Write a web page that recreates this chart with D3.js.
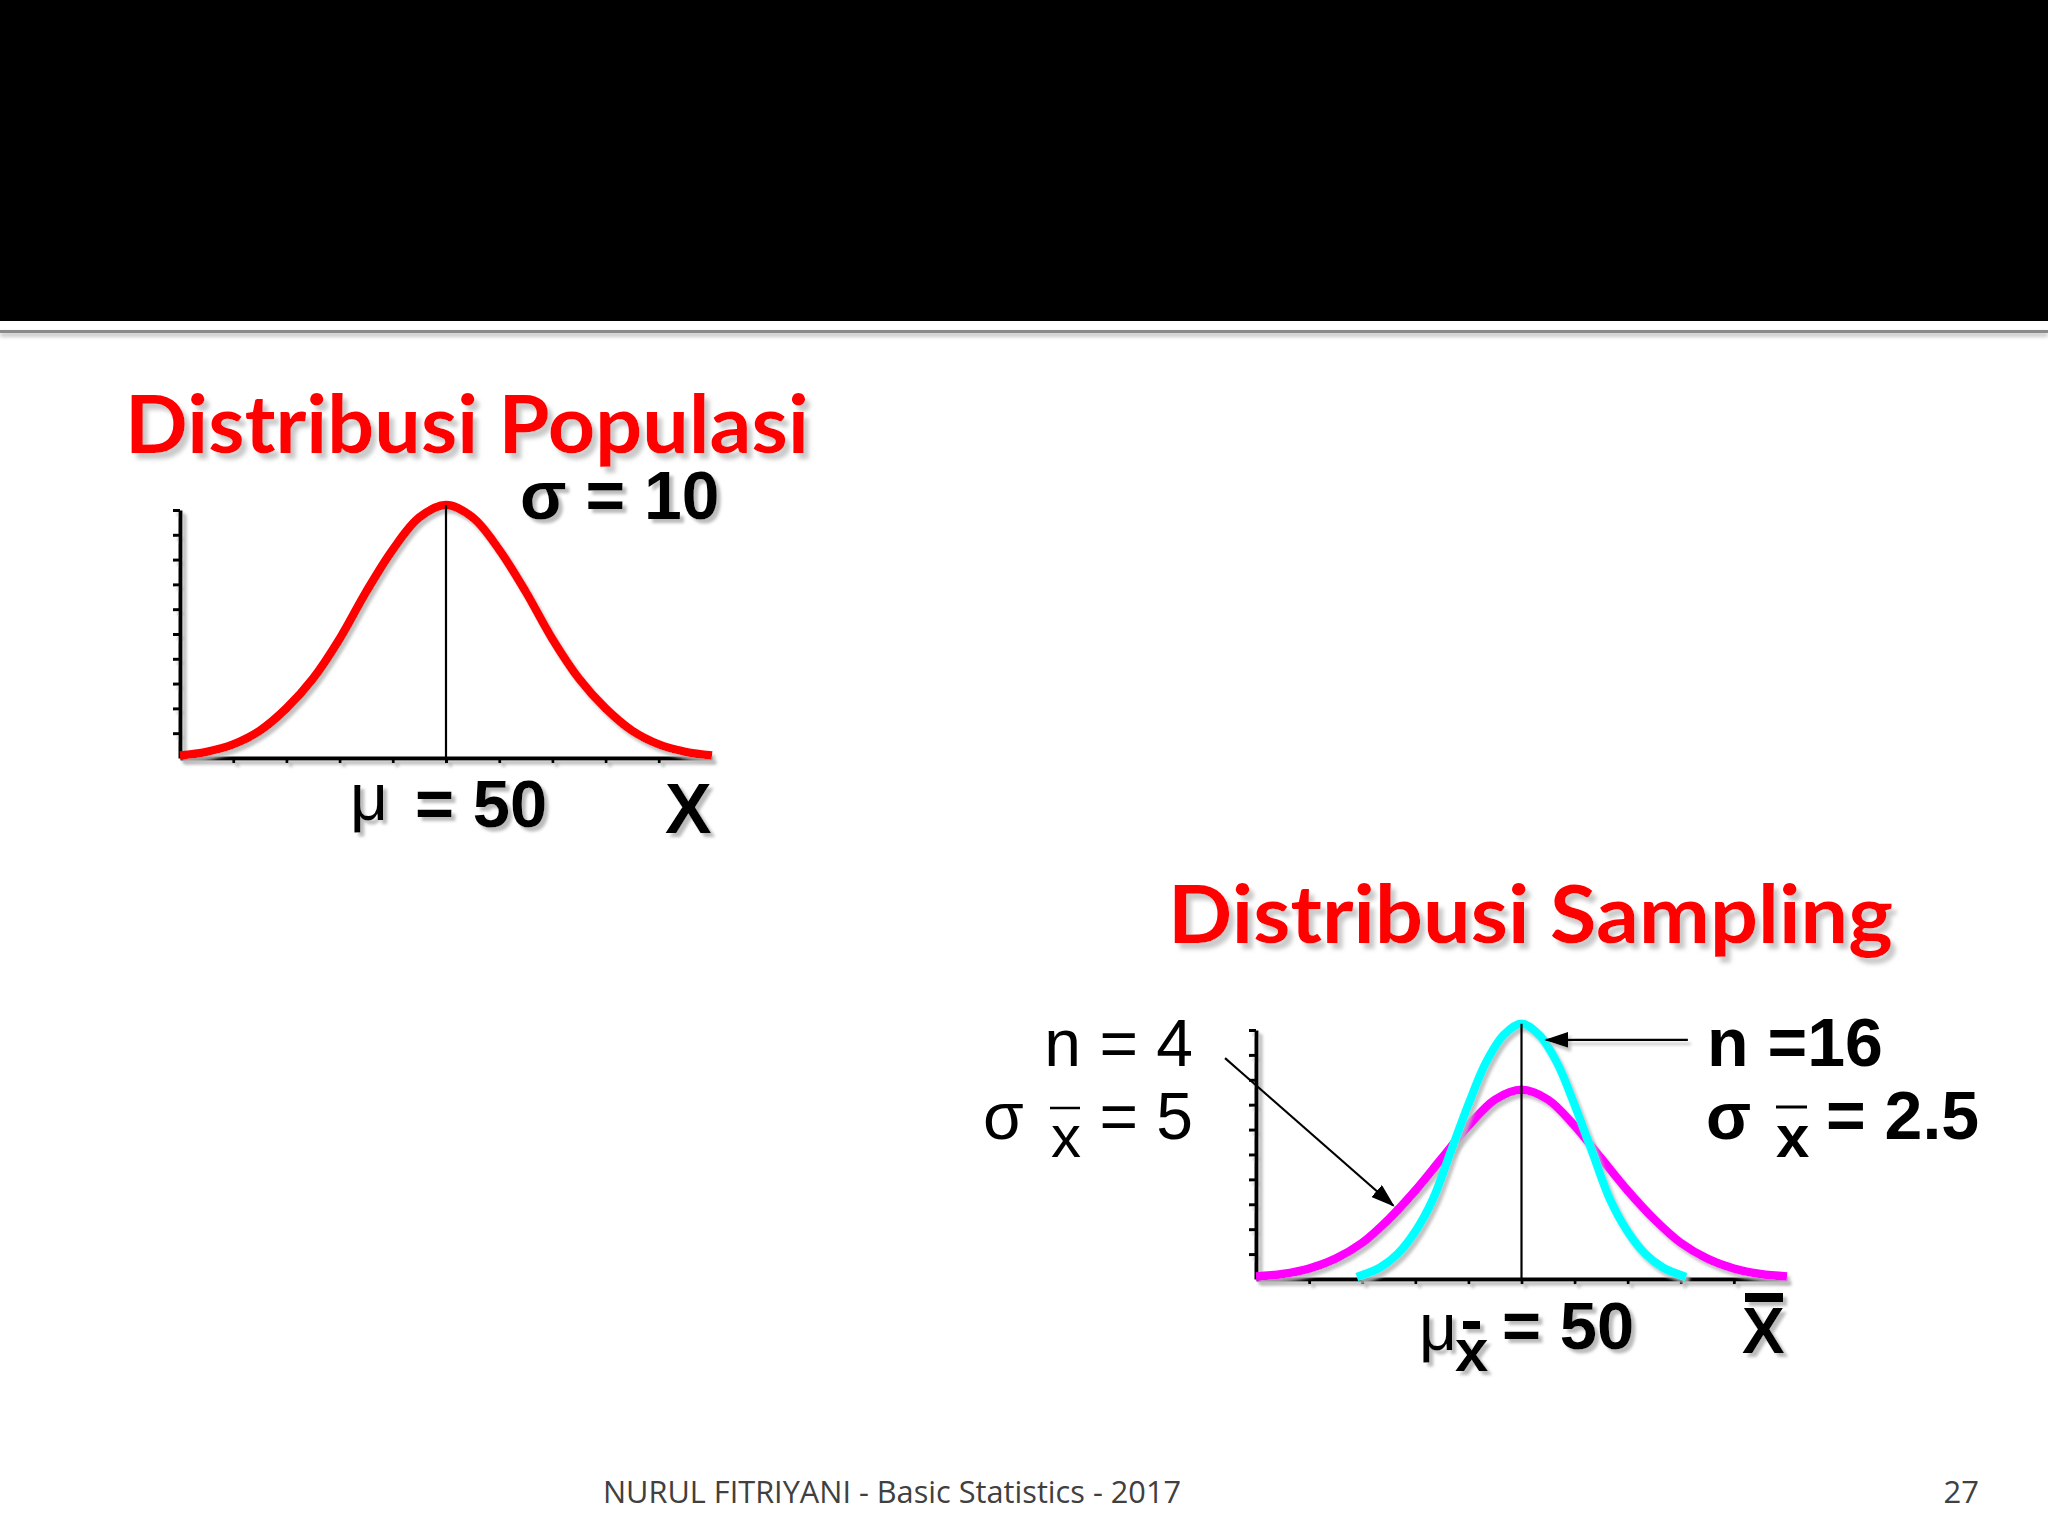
<!DOCTYPE html>
<html>
<head>
<meta charset="utf-8">
<script src="https://cdn.jsdelivr.net/npm/d3@7"></script>
<style>
  body { margin: 0; background: #fff; }
  svg { display: block; }
</style>
</head>
<body>
<script>
// ---------- data ----------
// population curve (sigma = 10), heights in arbitrary units (axis 0..10)
const popX = [20, 23, 26, 29, 32, 35, 38, 41, 44, 47, 50, 53, 56, 59, 62, 65, 68, 71, 74, 77, 80];
const popY = [0.1, 0.25, 0.55, 1.1, 2.0, 3.2, 4.8, 6.7, 8.4, 9.7, 10.2, 9.7, 8.4, 6.7, 4.8, 3.2, 2.0, 1.1, 0.55, 0.25, 0.1];

// sampling curve n = 4 (magenta)
const n4X = [35, 36.5, 38, 39.5, 41, 42.5, 44, 45.5, 47, 48.5, 50, 51.5, 53, 54.5, 56, 57.5, 59, 60.5, 62, 63.5, 65];
const n4Y = [0.1, 0.2, 0.42, 0.82, 1.45, 2.4, 3.55, 4.85, 6.15, 7.2, 7.6, 7.2, 6.15, 4.85, 3.55, 2.4, 1.45, 0.82, 0.42, 0.2, 0.1];

// sampling curve n = 16 (cyan)
const n16X = [40.7, 42, 43, 44, 45, 46, 47, 48, 49, 50, 51, 52, 53, 54, 55, 56, 57, 58, 59.3];
const n16Y = [0.08, 0.45, 1.0, 1.9, 3.2, 5.1, 7.0, 8.7, 9.8, 10.25, 9.8, 8.7, 7.0, 5.1, 3.2, 1.9, 1.0, 0.45, 0.08];

const popTicksX = [26, 32, 38, 44, 50, 56, 62, 68, 74];
const samTicksX = [38, 41, 44, 47, 50, 53, 56, 59, 62];
const ticksY = [1, 2, 3, 4, 5, 6, 7, 8, 9, 10];

const W = 2048, H = 1536;
const svg = d3.select("body").append("svg").attr("width", W).attr("height", H);
const defs = svg.append("defs");

function shadow(id, dx, dy, blur, color) {
  defs.append("filter")
    .attr("id", id)
    .attr("filterUnits", "userSpaceOnUse")
    .attr("x", 0).attr("y", 0).attr("width", W).attr("height", H)
    .append("feDropShadow")
    .attr("dx", dx).attr("dy", dy)
    .attr("stdDeviation", blur)
    .attr("flood-color", color)
    .attr("flood-opacity", 0.85);
}
shadow("txtShadow", 4, 4, 1.5, "#b0b0b0");
shadow("titleShadow", 5, 6, 2, "#c0c0c0");
shadow("lineShadow", 3, 4, 1.5, "#b8b8b8");
shadow("barShadow", 0, 3, 2, "#9a9a9a");

defs.append("marker")
  .attr("id", "head")
  .attr("markerUnits", "userSpaceOnUse")
  .attr("viewBox", "0 0 24 16")
  .attr("refX", 22).attr("refY", 8)
  .attr("markerWidth", 24).attr("markerHeight", 16)
  .attr("orient", "auto")
  .append("path")
  .attr("d", "M0,0L24,8L0,16Z")
  .attr("fill", "#000");

// header band
svg.append("rect").attr("x", 0).attr("y", 0).attr("width", W).attr("height", 321).attr("fill", "#000");
svg.append("rect").attr("x", 0).attr("y", 330).attr("width", W).attr("height", 3)
  .attr("fill", "#8a8a8a").attr("filter", "url(#barShadow)");

const sans = "'Liberation Sans', Arial, sans-serif";
const titleFont = "'Comic Sans MS', Lato, 'Open Sans', sans-serif";

// ---------- helpers ----------
function drawChart(g, x, y, ticksX, curves, peak) {
  const axes = g.append("g").attr("filter", "url(#txtShadow)");
  const ax = axes.append("g")
    .attr("transform", `translate(0,${y(0)})`)
    .call(d3.axisBottom(x).tickValues(ticksX).tickSize(5).tickSizeOuter(0).tickFormat(""));
  const ay = axes.append("g")
    .attr("transform", `translate(${x.range()[0]},0)`)
    .call(d3.axisLeft(y).tickValues(ticksY).tickSize(7).tickSizeOuter(0).tickFormat(""));
  [ax, ay].forEach(a => {
    a.select(".domain").attr("stroke", "#000").attr("stroke-width", 4);
    a.selectAll(".tick line").attr("stroke", "#000").attr("stroke-width", 3);
  });

  const line = d3.line()
    .x(d => x(d[0]))
    .y(d => y(d[1]))
    .curve(d3.curveCatmullRom.alpha(0.5));

  curves.forEach(c => {
    const pts = c.xs.map((v, i) => [v, c.ys[i]]);
    g.append("path")
      .attr("d", line(pts))
      .attr("fill", "none")
      .attr("stroke", c.color)
      .attr("stroke-width", 8.5)
      .attr("stroke-linejoin", "round")
      .attr("filter", "url(#lineShadow)");
  });

  // mean line
  g.append("line")
    .attr("x1", x(50)).attr("x2", x(50))
    .attr("y1", y(0)).attr("y2", y(peak))
    .attr("stroke", "#000").attr("stroke-width", 2.2);
}

function label(g, txt, px, py, size, weight, anchor, shadowed) {
  const t = g.append("text")
    .attr("x", px).attr("y", py)
    .attr("font-family", sans)
    .attr("font-size", size)
    .attr("font-weight", weight)
    .attr("text-anchor", anchor || "start")
    .attr("fill", "#000")
    .text(txt);
  if (shadowed) t.attr("filter", "url(#txtShadow)");
  return t;
}

function title(txt, px, py, len) {
  svg.append("text")
    .attr("x", px).attr("y", py)
    .attr("font-family", titleFont)
    .attr("font-size", 80)
    .attr("font-weight", 700)
    .attr("fill", "#ff0000")
    .attr("textLength", len)
    .attr("lengthAdjust", "spacingAndGlyphs")
    .attr("filter", "url(#titleShadow)")
    .text(txt);
}

// ---------- Distribusi Populasi ----------
title("Distribusi Populasi", 125, 453, 684);

const xPop = d3.scaleLinear().domain([20, 80]).range([180, 712]);
const yPop = d3.scaleLinear().domain([0, 10]).range([758, 510]);
const gPop = svg.append("g");
drawChart(gPop, xPop, yPop, popTicksX, [{ xs: popX, ys: popY, color: "#ff0000" }], d3.max(popY));

label(gPop, "\u03c3 = 10", 520, 519, 68, 700, "start", true);
label(gPop, "\u03bc", 350, 820, 66, 400, "start", true);
label(gPop, "= 50", 415, 827, 67, 700, "start", true);
label(gPop, "X", 665, 833, 70, 700, "start", true);

// ---------- Distribusi Sampling ----------
title("Distribusi Sampling", 1168, 943, 725);

const xSam = d3.scaleLinear().domain([35, 65]).range([1256, 1787]);
const ySam = d3.scaleLinear().domain([0, 10]).range([1279, 1030]);
const gSam = svg.append("g");
drawChart(gSam, xSam, ySam, samTicksX, [
  { xs: n4X, ys: n4Y, color: "#ff00ff" },
  { xs: n16X, ys: n16Y, color: "#00ffff" }
], d3.max(n16Y));

// arrows (in chart units)
const arrows = [
  { from: [33.25, 8.87], to: [42.75, 2.95], shadow: false },
  { from: [59.4, 9.6], to: [51.4, 9.6], shadow: true }
];
arrows.forEach(a => {
  gSam.append("line")
    .attr("x1", xSam(a.from[0])).attr("y1", ySam(a.from[1]))
    .attr("x2", xSam(a.to[0])).attr("y2", ySam(a.to[1]))
    .attr("stroke", "#000").attr("stroke-width", 2.2)
    .attr("marker-end", "url(#head)")
    .attr("filter", a.shadow ? "url(#lineShadow)" : null);
});

// n = 4 block (regular)
label(gSam, "n = 4", 1193, 1066, 66, 400, "end", false);
label(gSam, "\u03c3", 983, 1139, 66, 400, "start", false);
label(gSam, "x", 1051, 1157, 60, 400, "start", false);
gSam.append("line").attr("x1", 1050).attr("x2", 1080).attr("y1", 1108).attr("y2", 1108)
  .attr("stroke", "#000").attr("stroke-width", 2.5);
label(gSam, "= 5", 1193, 1139, 66, 400, "end", false);

// n = 16 block (bold)
label(gSam, "n =16", 1707, 1066, 68, 700, "start", false);
label(gSam, "\u03c3", 1706, 1139, 66, 700, "start", false);
label(gSam, "x", 1776, 1157, 60, 700, "start", false);
gSam.append("line").attr("x1", 1776).attr("x2", 1807).attr("y1", 1107).attr("y2", 1107)
  .attr("stroke", "#000").attr("stroke-width", 3);
label(gSam, "= 2.5", 1826, 1139, 68, 700, "start", false);

// mu x-bar = 50 and X-bar
label(gSam, "\u03bc", 1419, 1350, 66, 400, "start", true);
label(gSam, "x", 1455, 1371, 60, 700, "start", true);
gSam.append("rect").attr("x", 1463).attr("y", 1321).attr("width", 17).attr("height", 8)
  .attr("fill", "#000").attr("filter", "url(#txtShadow)");
label(gSam, "= 50", 1502, 1349, 67, 700, "start", true);
label(gSam, "X", 1742, 1353, 64, 700, "start", true);
gSam.append("rect").attr("x", 1745).attr("y", 1293).attr("width", 38).attr("height", 9)
  .attr("fill", "#000").attr("filter", "url(#txtShadow)");

// ---------- footer ----------
svg.append("text")
  .attr("x", 603).attr("y", 1503)
  .attr("font-family", "'Open Sans', Lato, sans-serif")
  .attr("font-size", 31)
  .attr("fill", "#404040")
  .attr("textLength", 578)
  .attr("lengthAdjust", "spacingAndGlyphs")
  .text("NURUL FITRIYANI - Basic Statistics - 2017");
svg.append("text")
  .attr("x", 1979).attr("y", 1503)
  .attr("text-anchor", "end")
  .attr("font-family", "'Open Sans', Lato, sans-serif")
  .attr("font-size", 31)
  .attr("fill", "#404040")
  .text("27");
</script>
</body>
</html>
